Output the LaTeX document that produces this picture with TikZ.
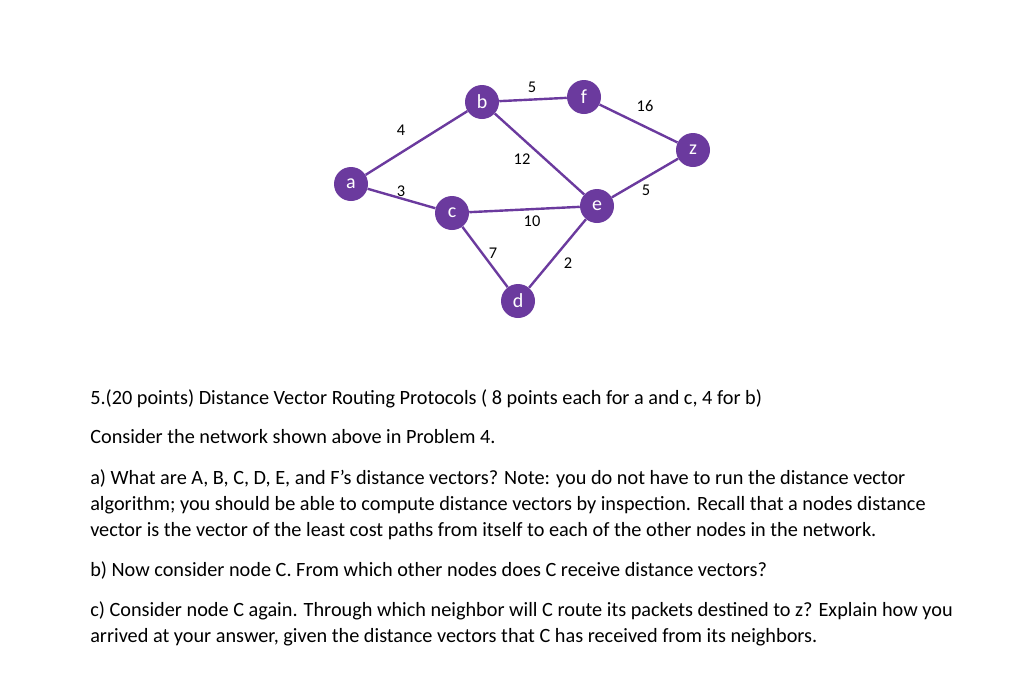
\documentclass[tikz,border=0pt]{standalone}
\usepackage{fontspec}
\setmainfont{Carlito}
\definecolor{pur}{HTML}{6B3A9E}
\begin{document}
\begin{tikzpicture}[x=0.75pt,y=-0.75pt,
  vtx/.style={circle,fill=pur,minimum size=25.5pt,inner sep=0pt,text=white,font=\fontsize{15}{17}\selectfont},
  edge/.style={pur,line width=1.8pt},
  wt/.style={font=\fontsize{12.3}{14}\selectfont},
  para/.style={anchor=base west,inner sep=0pt,font=\fontsize{15.2}{18}\selectfont}]
\useasboundingbox (0,0) rectangle (1024,689);
\node[vtx] (a) at (351,184) {a};
\node[vtx] (b) at (482,102) {b};
\node[vtx] (f) at (584,97) {f};
\node[vtx] (z) at (693,150) {z};
\node[vtx] (c) at (452,213) {c};
\node[vtx] (e) at (597,206) {e};
\node[vtx] (d) at (518,301) {d};
\draw[edge] (a) -- (b); \draw[edge] (a) -- (c);
\draw[edge] (b) -- (f); \draw[edge] (b) -- (e);
\draw[edge] (f) -- (z); \draw[edge] (z) -- (e);
\draw[edge] (c) -- (e); \draw[edge] (c) -- (d); \draw[edge] (d) -- (e);
\node[wt] (w1) at (532,87) {5};
\node[wt] (w2) at (645,106) {16};
\node[wt] (w3) at (401,130) {4};
\node[wt] (w4) at (522,159) {12};
\node[wt] (w5) at (401,191) {3};
\node[wt] (w6) at (532,221) {10};
\node[wt] (w7) at (646,190) {5};
\node[wt] (w8) at (493,253) {7};
\node[wt] (w9) at (568,263) {2};
\node[para] (t1) at (90,404) {5.(20 points) Distance Vector Routing Protocols ( 8 points each for a and c, 4 for b)};
\node[para] (t2) at (90,443) {Consider the network shown above in Problem 4.};
\node[para] (t3) at (90,484) {a) What are A, B, C, D, E, and F’s distance vectors? Note: you do not have to run the distance vector};
\node[para] (t4) at (90,510) {algorithm; you should be able to compute distance vectors by inspection. Recall that a nodes distance};
\node[para] (t5) at (90,536) {vector is the vector of the least cost paths from itself to each of the other nodes in the network.};
\node[para] (t6) at (90,576) {b) Now consider node C. From which other nodes does C receive distance vectors?};
\node[para] (t7) at (90,616) {c) Consider node C again. Through which neighbor will C route its packets destined to z? Explain how you};
\node[para] (t8) at (90,642) {arrived at your answer, given the distance vectors that C has received from its neighbors.};
\end{tikzpicture}
\end{document}
